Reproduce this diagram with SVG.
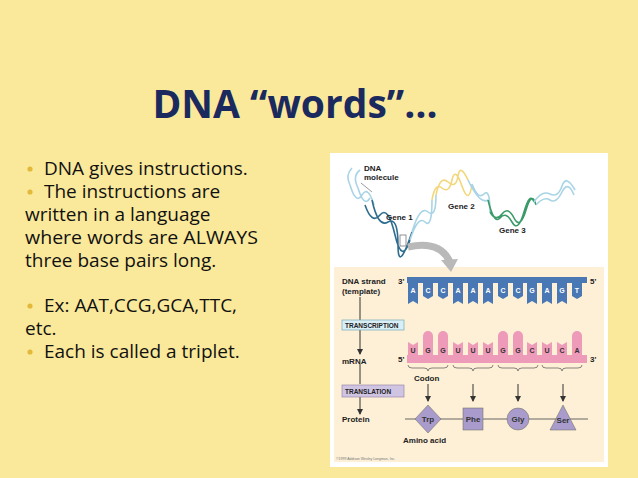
<svg xmlns="http://www.w3.org/2000/svg" width="638" height="478" viewBox="0 0 638 478">
<defs>
<style>
.b{font-family:"Open Sans","Liberation Sans",sans-serif;font-size:19px;fill:#111}
.d{fill:#e2b93b}
.f{font-family:"Liberation Sans",Arial,sans-serif;font-weight:bold;fill:#222}
.s{font-size:8px}
.l{font-family:"Liberation Sans",Arial,sans-serif;font-weight:bold;font-size:7px;fill:#fff;text-anchor:middle}
.lr{font-family:"Liberation Sans",Arial,sans-serif;font-weight:bold;font-size:7px;fill:#333;text-anchor:middle}
.w{fill:none;stroke-width:1.6}
.ar{stroke:#333;stroke-width:1;marker-end:url(#ah)}
</style>
<marker id="ah" markerWidth="6" markerHeight="6" refX="5" refY="3" orient="auto" markerUnits="userSpaceOnUse"><path d="M0,0 L6,3 L0,6 z" fill="#333"/></marker>
</defs>
<rect width="638" height="478" fill="#fbe99b"/>
<g id="title"><text x="295" y="118" text-anchor="middle" font-family="'Open Sans','Liberation Sans',sans-serif" font-weight="bold" font-size="39" fill="#1b2a5e" textLength="285" lengthAdjust="spacingAndGlyphs">DNA “words”…</text></g>
<g id="bullets">
<circle class="d" cx="30" cy="169" r="2.6"/><text class="b" x="44" y="175">DNA gives instructions.</text>
<circle class="d" cx="30" cy="192" r="2.6"/><text class="b" x="44" y="198">The instructions are</text>
<text class="b" x="25" y="221">written in a language</text>
<text class="b" x="25" y="244" textLength="233" lengthAdjust="spacingAndGlyphs">where words are ALWAYS</text>
<text class="b" x="25" y="267">three base pairs long.</text>
<circle class="d" cx="30" cy="306" r="2.6"/><text class="b" x="44" y="312">Ex: AAT,CCG,GCA,TTC,</text>
<text class="b" x="25" y="335">etc.</text>
<circle class="d" cx="30" cy="352" r="2.6"/><text class="b" x="44" y="358">Each is called a triplet.</text>
</g>
<g id="figure">
<rect x="330" y="153" width="278" height="314" fill="#fff"/>
<rect x="334" y="267" width="270" height="195" fill="#fdf0d6"/>
<!-- helix -->
<g id="helix">
<path class="w" stroke="#a8d4e6" d="M350 185 Q345 175 352 168 M358 188 Q352 176 360 170"/>
<path class="w" stroke="#a8d4e6" d="M350 185 Q356 205 362 195 T374 205 M358 188 Q364 208 370 198"/>
<path class="w" stroke="#2f6d8f" d="M365 205 Q372 225 380 215 T395 235 T410 240 M372 200 Q378 228 388 222 T398 245 T412 232"/>
<path class="w" stroke="#a8d4e6" d="M410 240 Q418 215 425 222 T432 200 M412 232 Q420 205 428 212 T436 195"/>
<path class="w" stroke="#f2d77a" d="M432 200 Q435 182 442 188 T452 180 T462 186 T472 184 M436 195 Q440 175 448 182 T458 176 T468 180"/>
<path class="w" stroke="#a8d4e6" d="M472 184 Q478 200 484 194 T490 212 M468 180 Q480 205 488 200"/>
<path class="w" stroke="#3a9a68" d="M490 212 Q496 222 502 214 T514 218 T526 210 T536 205 M488 200 Q494 225 500 218 T512 222 T524 212 T534 202"/>
<path class="w" stroke="#a8d4e6" d="M536 205 Q544 196 550 200 T562 192 T574 195 M534 202 Q542 190 550 194 T562 186 T575 190"/>
<rect x="400" y="235" width="6" height="11" fill="none" stroke="#777" stroke-width="0.8"/>
<path d="M408 247 Q440 240 450 262" fill="none" stroke="#b9b9b9" stroke-width="7"/>
<path d="M441 260 L458 259 L451 272 z" fill="#b9b9b9"/>
<line x1="361" y1="183" x2="372" y2="192" stroke="#555" stroke-width="0.6"/>
<text class="f s" x="364" y="171">DNA</text><text class="f s" x="364" y="180">molecule</text>
<text class="f s" x="386" y="220">Gene 1</text>
<text class="f s" x="448" y="209">Gene 2</text>
<text class="f s" x="499" y="233">Gene 3</text>
</g>
<!-- DNA strand -->
<g id="dna-strand">
<rect x="407" y="277" width="180" height="6" fill="#4a78b5"/>
<g fill="#4a78b5">
<path d="M408 283h10v21l-5-3l-5 3z"/><path d="M423 283h10v13l-5 3l-5-3z"/><path d="M438 283h10v13l-5 3l-5-3z"/>
<path d="M453 283h10v21l-5-3l-5 3z"/><path d="M468 283h10v21l-5-3l-5 3z"/><path d="M483 283h10v21l-5-3l-5 3z"/>
<path d="M498 283h10v13l-5 3l-5-3z"/><path d="M513 283h10v13l-5 3l-5-3z"/><path d="M527 283h10v21l-5-3l-5 3z"/>
<path d="M542 283h10v21l-5-3l-5 3z"/><path d="M557 283h10v21l-5-3l-5 3z"/><path d="M572 283h10v13l-5 3l-5-3z"/>
</g>
<g class="l"><text x="413" y="293">A</text><text x="428" y="293">C</text><text x="443" y="293">C</text><text x="458" y="293">A</text><text x="473" y="293">A</text><text x="488" y="293">A</text><text x="503" y="293">C</text><text x="518" y="293">C</text><text x="532" y="293">G</text><text x="547" y="293">A</text><text x="562" y="293">G</text><text x="577" y="293">T</text></g>
<text class="f s" x="398" y="284">3'</text><text class="f s" x="590" y="284">5'</text>
</g>
<!-- mRNA -->
<g id="mrna">
<rect x="407" y="355" width="180" height="8" fill="#ee9ab9"/>
<g fill="#ee9ab9">
<path d="M408 355v-13l5 3l5-3v13z"/><path d="M423 355v-19a5 5 0 0 1 10 0v19z"/><path d="M438 355v-19a5 5 0 0 1 10 0v19z"/>
<path d="M453 355v-13l5 3l5-3v13z"/><path d="M468 355v-13l5 3l5-3v13z"/><path d="M483 355v-13l5 3l5-3v13z"/>
<path d="M498 355v-19a5 5 0 0 1 10 0v19z"/><path d="M513 355v-19a5 5 0 0 1 10 0v19z"/><path d="M527 355v-13l5 3l5-3v13z"/>
<path d="M542 355v-13l5 3l5-3v13z"/><path d="M557 355v-13l5 3l5-3v13z"/><path d="M572 355v-19a5 5 0 0 1 10 0v19z"/>
</g>
<g class="lr"><text x="413" y="353">U</text><text x="428" y="353">G</text><text x="443" y="353">G</text><text x="458" y="353">U</text><text x="473" y="353">U</text><text x="488" y="353">U</text><text x="503" y="353">G</text><text x="518" y="353">G</text><text x="532" y="353">C</text><text x="547" y="353">U</text><text x="562" y="353">C</text><text x="577" y="353">A</text></g>
<text class="f s" x="398" y="362">5'</text><text class="f s" x="590" y="362">3'</text>
<g fill="none" stroke="#555" stroke-width="0.7">
<path d="M408 365q0 3 4 3h12q4 0 4 3q0-3 4-3h12q4 0 4-3"/>
<path d="M453 365q0 3 4 3h12q4 0 4 3q0-3 4-3h12q4 0 4-3"/>
<path d="M498 365q0 3 4 3h12q4 0 4 3q0-3 4-3h12q4 0 4-3"/>
<path d="M542 365q0 3 4 3h12q4 0 4 3q0-3 4-3h12q4 0 4-3"/>
</g>
<text class="f s" x="414" y="381">Codon</text>
</g>
<!-- left labels -->
<g id="left">
<text class="f s" x="342" y="284">DNA strand</text><text class="f s" x="342" y="294">(template)</text>
<line class="ar" x1="360" y1="297" x2="360" y2="354"/>
<line x1="360" y1="364" x2="360" y2="384" stroke="#333" stroke-width="1"/>
<line class="ar" x1="360" y1="397" x2="360" y2="414"/>
<rect x="342" y="320" width="62" height="10" fill="#d9eef5" stroke="#7ab" stroke-width="0.7"/>
<text class="f" x="345" y="328" font-size="6.5">TRANSCRIPTION</text>
<rect x="342" y="385" width="62" height="12" fill="#cfc5e3" stroke="#98a" stroke-width="0.7"/>
<text class="f" x="345" y="394" font-size="6.5">TRANSLATION</text>
<text class="f s" x="342" y="364">mRNA</text>
<text class="f s" x="342" y="422">Protein</text>
</g>
<!-- protein -->
<g id="protein">
<line x1="405" y1="419" x2="588" y2="419" stroke="#666" stroke-width="1"/>
<line class="ar" x1="428" y1="384" x2="428" y2="401"/><line class="ar" x1="473" y1="384" x2="473" y2="401"/>
<line class="ar" x1="518" y1="384" x2="518" y2="401"/><line class="ar" x1="563" y1="384" x2="563" y2="401"/>
<path d="M428 405l13 14l-13 14l-13-14z" fill="#a99ccc" stroke="#665" stroke-width="0.5"/>
<rect x="463" y="408" width="20" height="22" fill="#a99ccc" stroke="#665" stroke-width="0.5"/>
<circle cx="518" cy="419" r="11" fill="#a99ccc" stroke="#665" stroke-width="0.5"/>
<path d="M563 405l13 25h-26z" fill="#a99ccc" stroke="#665" stroke-width="0.5"/>
<g class="lr" font-size="8"><text x="428" y="422" font-size="8">Trp</text><text x="473" y="422" font-size="8">Phe</text><text x="518" y="422" font-size="8">Gly</text><text x="563" y="423" font-size="8">Ser</text></g>
<text class="f s" x="403" y="443">Amino acid</text>
<text x="336" y="460" font-family="Liberation Sans,sans-serif" font-size="3.5" fill="#777">©1999 Addison Wesley Longman, Inc.</text>
</g>
</g>
</svg>
